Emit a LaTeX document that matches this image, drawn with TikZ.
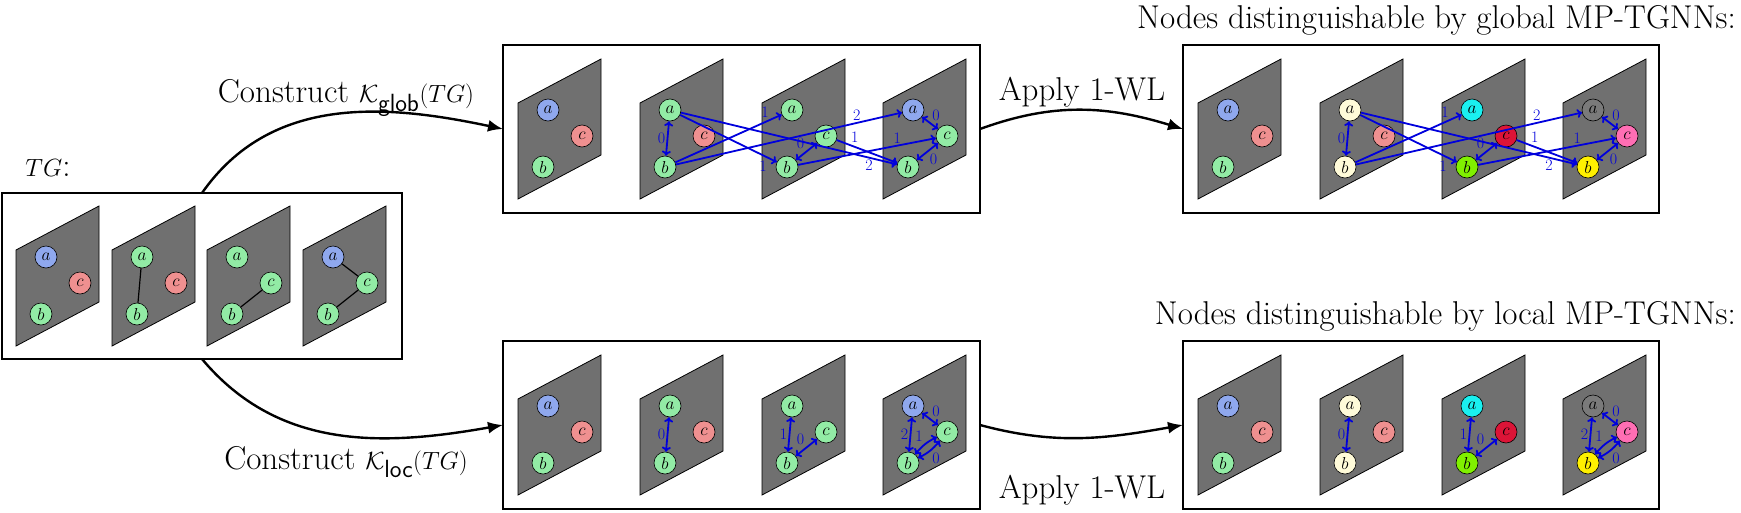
\documentclass[tikz,border=0pt]{standalone}
\usetikzlibrary{arrows.meta}
\definecolor{pgray}{HTML}{707070}
\definecolor{nblue}{HTML}{8FA8EE}
\definecolor{nred}{HTML}{EF9090}
\definecolor{ngreen}{HTML}{92EBA5}
\definecolor{nyellow}{HTML}{FFFBD9}
\definecolor{ncyan}{HTML}{1AF0F0}
\definecolor{nlime}{HTML}{80F000}
\definecolor{ncrimson}{HTML}{DC1437}
\definecolor{ngrey}{HTML}{7A7A7A}
\definecolor{npink}{HTML}{FF6EB4}
\definecolor{nyel}{HTML}{FFF000}
\definecolor{eblue}{RGB}{0,0,220}
\newcommand\mkplane[6]{%
  \path[plane] (#2,#3) -- ++(83,-44) -- ++(0,96) -- ++(-83,44) -- cycle;
  \node[vtx,fill=#4] (#1a) at (#2+30,#3+7) {$a$};
  \node[vtx,fill=#5] (#1b) at (#2+25,#3+64) {$b$};
  \node[vtx,fill=#6] (#1c) at (#2+64,#3+33) {$c$};
}
\newcommand\gedges[1]{%
  \draw[tb] (#12a) -- node[lab,left]{0} (#12b);
  \draw[te] (#12b) -- node[lab,pos=0.9,above left]{1} (#13a);
  \draw[te] (#12a) -- node[lab,pos=0.92,below left]{1} (#13b);
  \draw[tb] (#13b) -- node[lab,above left]{0} (#13c);
  \draw[te] (#12b) -- node[lab,pos=0.8,above]{2} (#14a);
  \draw[te] (#13c) -- node[lab,pos=0.2,above right]{1} (#14b);
  \draw[te] (#13b) -- node[lab,pos=0.72,above]{1} (#14c);
  \draw[te] (#12a) -- node[lab,pos=0.87,below]{2} (#14b);
  \draw[tb] (#14a) -- node[lab,above right]{0} (#14c);
  \draw[tb] (#14b) -- node[lab,below right]{0} (#14c);
}
\newcommand\ledges[1]{%
  \draw[tb] (#12a) -- node[lab,left]{0} (#12b);
  \draw[tb] (#13a) -- node[lab,left]{1} (#13b);
  \draw[tb] (#13b) -- node[lab,above left]{0} (#13c);
  \draw[tb] (#14a) -- node[lab,left]{2} (#14b);
  \draw[tb] (#14a) -- node[lab,above right]{0} (#14c);
  \draw[tb] (#14b) to[bend left=12] node[lab,above left]{1} (#14c);
  \draw[tb] (#14b) to[bend right=12] node[lab,below right]{0} (#14c);
}
\begin{document}
\begin{tikzpicture}[x=1pt,y=-1pt,
  plane/.style={fill=pgray,draw=black,line width=0.8pt},
  vtx/.style={circle,draw=black,line width=0.6pt,minimum size=22pt,inner sep=0pt,font=\fontsize{17}{17}\selectfont},
  box/.style={draw=black,line width=1.2pt,inner sep=0pt,outer sep=0pt,anchor=north west},
  te/.style={draw=eblue,line width=1.8pt,-{To[length=5pt,width=9pt]}},
  tb/.style={draw=eblue,line width=1.8pt,{To[length=5pt,width=9pt]}-{To[length=5pt,width=9pt]}},
  lab/.style={text=eblue,font=\fontsize{16}{16}\selectfont,inner sep=1.5pt},
  big/.style={font=\fontsize{33}{36}\selectfont,inner sep=0pt},
  flow/.style={line width=2.4pt,-{Latex[length=15pt,width=12pt]}}]
\useasboundingbox (0,0) rectangle (1741,512);
% boxes
\node[box,minimum width=400pt,minimum height=166pt] (tg) at (2,193) {};
\node[box,minimum width=477pt,minimum height=168pt] (gb) at (503,45) {};
\node[box,minimum width=477pt,minimum height=168pt] (lb) at (503,341) {};
\node[box,minimum width=476pt,minimum height=168pt] (rg) at (1183,45) {};
\node[box,minimum width=476pt,minimum height=168pt] (rl) at (1183,341) {};
% texts
\node[big] (tgl) at (48,168) {$TG$:};
\node[big] (cg) at (346,98) {Construct $\mathcal{K}_{\mathsf{glob}}(TG)$};
\node[big] (cl) at (346,462) {Construct $\mathcal{K}_{\mathsf{loc}}(TG)$};
\node[big] (ag) at (1082,92) {Apply 1-WL};
\node[big] (al) at (1082,490) {Apply 1-WL};
\node[big,anchor=east] (hg) at (1736,20) {Nodes distinguishable by global MP-TGNNs:};
\node[big,anchor=east] (hl) at (1736,316) {Nodes distinguishable by local MP-TGNNs:};
% TG planes
\mkplane{t1}{16}{250}{nblue}{ngreen}{nred}
\mkplane{t2}{112}{250}{ngreen}{ngreen}{nred}
\mkplane{t3}{207}{250}{ngreen}{ngreen}{ngreen}
\mkplane{t4}{303}{250}{nblue}{ngreen}{ngreen}
\draw[line width=1.2pt] (t2a) -- (t2b);
\draw[line width=1.2pt] (t3b) -- (t3c);
\draw[line width=1.2pt] (t4a) -- (t4c) (t4c) -- (t4b);
% global
\mkplane{g1}{518}{103}{nblue}{ngreen}{nred}
\mkplane{g2}{640}{103}{ngreen}{ngreen}{nred}
\mkplane{g3}{762}{103}{ngreen}{ngreen}{ngreen}
\mkplane{g4}{883}{103}{nblue}{ngreen}{ngreen}
\gedges{g}
% local
\mkplane{l1}{518}{399}{nblue}{ngreen}{nred}
\mkplane{l2}{640}{399}{ngreen}{ngreen}{nred}
\mkplane{l3}{762}{399}{ngreen}{ngreen}{ngreen}
\mkplane{l4}{883}{399}{nblue}{ngreen}{ngreen}
\ledges{l}
% result global
\mkplane{r1}{1198}{103}{nblue}{ngreen}{nred}
\mkplane{r2}{1320}{103}{nyellow}{nyellow}{nred}
\mkplane{r3}{1442}{103}{ncyan}{nlime}{ncrimson}
\mkplane{r4}{1563}{103}{ngrey}{nyel}{npink}
\gedges{r}
% result local
\mkplane{s1}{1198}{399}{nblue}{ngreen}{nred}
\mkplane{s2}{1320}{399}{nyellow}{nyellow}{nred}
\mkplane{s3}{1442}{399}{ncyan}{nlime}{ncrimson}
\mkplane{s4}{1563}{399}{ngrey}{nyel}{npink}
\ledges{s}
% flows
\draw[flow] (tg.north) to[out=55,in=168] (gb.west);
\draw[flow] (tg.south) to[out=-50,in=190] (lb.west);
\draw[flow] (gb.east) to[out=20,in=163] (rg.west);
\draw[flow] (lb.east) to[out=-15,in=190] (rl.west);
\end{tikzpicture}
\end{document}
